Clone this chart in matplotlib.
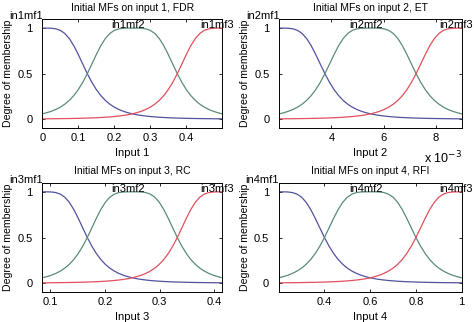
import matplotlib
matplotlib.use("Agg")
import matplotlib.pyplot as plt
from matplotlib.ticker import FuncFormatter

plt.rcParams['font.family'] = ['Liberation Sans', 'DejaVu Sans']

# normalized sample positions across each input range (0..1)
t_norm = [k / 40 for k in range(41)]
# membership values
mf1 = [1.0000, 0.9999, 0.9984, 0.9920, 0.9750, 0.9412, 0.8853, 0.8064, 0.7094, 0.6038,
       0.5000, 0.4058, 0.3254, 0.2593, 0.2065, 0.1649, 0.1324, 0.1069, 0.0870, 0.0713,
       0.0588, 0.0489, 0.0409, 0.0345, 0.0293, 0.0250, 0.0214, 0.0185, 0.0160, 0.0139,
       0.0122, 0.0107, 0.0094, 0.0084, 0.0074, 0.0066, 0.0059, 0.0053, 0.0048, 0.0043,
       0.0039]
mf2 = [0.0588, 0.0713, 0.0870, 0.1069, 0.1324, 0.1649, 0.2065, 0.2593, 0.3254, 0.4058,
       0.5000, 0.6038, 0.7094, 0.8064, 0.8853, 0.9412, 0.9750, 0.9920, 0.9984, 0.9999,
       1.0000, 0.9999, 0.9984, 0.9920, 0.9750, 0.9412, 0.8853, 0.8064, 0.7094, 0.6038,
       0.5000, 0.4058, 0.3254, 0.2593, 0.2065, 0.1649, 0.1324, 0.1069, 0.0870, 0.0713,
       0.0588]
mf3 = list(reversed(mf1))

titles = ["Initial MFs on input 1, FDR", "Initial MFs on input 2, ET",
          "Initial MFs on input 3, RC", "Initial MFs on input 4, RFI"]
xlabels = ["Input 1", "Input 2", "Input 3", "Input 4"]
x_ranges = [(0.0, 0.5), (0.002, 0.009), (0.085, 0.415), (0.2, 1.0)]
x_ticks = [[0, 0.1, 0.2, 0.3, 0.4], [0.004, 0.006, 0.008],
           [0.1, 0.2, 0.3, 0.4], [0.4, 0.6, 0.8, 1.0]]
mf_names = [["in1mf1", "in1mf2", "in1mf3"], ["in2mf1", "in2mf2", "in2mf3"],
            ["in3mf1", "in3mf2", "in3mf3"], ["in4mf1", "in4mf2", "in4mf3"]]
colors = ["#5252a0", "#5a8c78", "#e0505e"]

W, H = 474, 322
fig = plt.figure(figsize=(W / 100, H / 100), dpi=100)
boxes = [(42.3, 19, 222.3, 128.3), (279.3, 19, 461.7, 128.3),
         (42.3, 182.7, 222.3, 292.3), (278.7, 182.7, 461.7, 292.3)]
fs = 8.0
for i in range(4):
    l, t, r, b = boxes[i]
    ax = fig.add_axes([l / W, 1 - b / H, (r - l) / W, (b - t) / H])
    lo, hi = x_ranges[i]
    xs = [lo + (hi - lo) * v for v in t_norm]
    for ys, c in zip([mf1, mf2, mf3], colors):
        ax.plot(xs, ys, color=c, lw=0.9)
    ax.set_xlim(lo, hi)
    ax.set_ylim(-0.1, 1.1)
    ax.set_yticks([0, 0.5, 1])
    ax.set_yticklabels(["0", "0.5", "1"])
    ax.set_xticks(x_ticks[i])
    if i == 1:
        ax.xaxis.set_major_formatter(FuncFormatter(lambda v, p: f"{v * 1e3:g}"))
        ax.text(1.0, -0.2, "x 10$^{-3}$", transform=ax.transAxes, ha='right',
                va='top', fontsize=9)
    else:
        ax.xaxis.set_major_formatter(FuncFormatter(lambda v, p: f"{v:g}"))
    ax.tick_params(direction='in', length=2.5, width=0.6, labelsize=fs,
                   top=True, right=True)
    ax.tick_params(axis='y', pad=7)
    ax.tick_params(axis='x', pad=3.5)
    for s in ax.spines.values():
        s.set_linewidth(0.7)
    ax.set_title(titles[i], fontsize=fs - 0.5, pad=6)
    ax.set_xlabel(xlabels[i], fontsize=fs, labelpad=3.5)
    ax.set_ylabel("Degree of membership", fontsize=7.6, labelpad=3)
    names = mf_names[i]
    ax.text(-0.09, 1.0, names[0], transform=ax.transAxes, ha='center',
            va='baseline', fontsize=fs)
    ax.text(0.478, 1.0, names[1], transform=ax.get_yaxis_transform(),
            ha='center', va='baseline', fontsize=fs)
    ax.text(0.97, 1.0, names[2], transform=ax.get_yaxis_transform(),
            ha='center', va='baseline', fontsize=fs)

fig.savefig("out.png", dpi=100)
